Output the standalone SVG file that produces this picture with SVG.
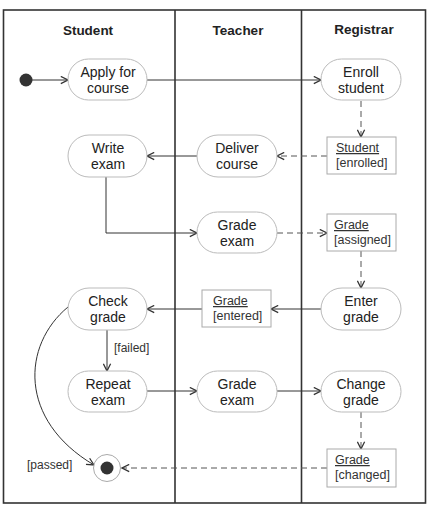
<svg xmlns="http://www.w3.org/2000/svg" width="431" height="512" viewBox="0 0 431 512">
<defs>
<marker id="arr" viewBox="0 0 10 10" refX="9" refY="5" markerWidth="9" markerHeight="9" markerUnits="userSpaceOnUse" orient="auto">
<path d="M1,1 L9,5 L1,9" fill="none" stroke="#333" stroke-width="1.4"/>
</marker>
<style>
.lane{fill:none;stroke:#333;stroke-width:1.6}
.hdr{font-family:"Liberation Sans",Arial,sans-serif;font-size:13.5px;font-weight:bold;fill:#222;text-anchor:middle}
.act{fill:#fff;stroke:#bbb;stroke-width:1}
.obj{fill:#fff;stroke:#aaa;stroke-width:1}
.t{font-family:"Liberation Sans",Arial,sans-serif;font-size:14px;fill:#222;text-anchor:middle}
.o{font-family:"Liberation Sans",Arial,sans-serif;font-size:12.5px;fill:#333}
.u{text-decoration:underline}
.c{fill:none;stroke:#333;stroke-width:1;marker-end:url(#arr)}
.d{stroke-dasharray:6,4;stroke:#555}
.g{font-family:"Liberation Sans",Arial,sans-serif;font-size:12px;fill:#333}
</style>
</defs>
<rect width="431" height="512" fill="#fff"/>
<g id="lanes">
<rect class="lane" x="3.5" y="10" width="422" height="493"/>
<line class="lane" x1="175" y1="10" x2="175" y2="503"/>
<line class="lane" x1="301.5" y1="10" x2="301.5" y2="503"/>
<text class="hdr" x="88" y="35">Student</text>
<text class="hdr" x="238" y="35">Teacher</text>
<text class="hdr" x="364" y="34">Registrar</text>
</g>
<g id="connectors">
<line class="c" x1="32" y1="80" x2="68" y2="80"/>
<line class="c" x1="147" y1="80" x2="321" y2="80"/>
<line class="c d" x1="361" y1="101" x2="361" y2="137"/>
<line class="c d" x1="327" y1="156" x2="277" y2="156"/>
<line class="c" x1="197" y1="156" x2="147" y2="156"/>
<polyline class="c" points="106,177 106,233 197,233"/>
<line class="c d" x1="277" y1="233" x2="327" y2="233"/>
<line class="c d" x1="361" y1="251" x2="361" y2="288"/>
<line class="c" x1="321" y1="309" x2="271" y2="309"/>
<line class="c" x1="202" y1="309" x2="147" y2="309"/>
<line class="c" x1="107" y1="330" x2="107" y2="371"/>
<line class="c" x1="147" y1="391" x2="197" y2="391"/>
<line class="c" x1="277" y1="391" x2="321" y2="391"/>
<line class="c d" x1="361" y1="412" x2="361" y2="449"/>
<line class="c d" x1="327" y1="468" x2="122" y2="468"/>
<path class="c" d="M68,307 C22,345 18,420 94,465"/>
<text class="g" x="114" y="352">[failed]</text>
<text class="g" x="27" y="469">[passed]</text>
</g>
<g id="start"><circle cx="26" cy="80" r="6.5" fill="#333"/></g>
<g id="apply"><rect class="act" x="68" y="59" width="79" height="41" rx="20.5"/><text class="t" x="108" y="77">Apply for</text><text class="t" x="108" y="93">course</text></g>
<g id="enroll"><rect class="act" x="321" y="59" width="80" height="41" rx="20.5"/><text class="t" x="361" y="77">Enroll</text><text class="t" x="361" y="93">student</text></g>
<g id="write"><rect class="act" x="68" y="135" width="79" height="42" rx="21"/><text class="t" x="108" y="153">Write</text><text class="t" x="108" y="169">exam</text></g>
<g id="deliver"><rect class="act" x="197" y="135" width="80" height="42" rx="21"/><text class="t" x="237" y="153">Deliver</text><text class="t" x="237" y="169">course</text></g>
<g id="studentEnrolled"><rect class="obj" x="327" y="137" width="69" height="37"/><text class="o u" x="336" y="152">Student</text><text class="o" x="336" y="167">[enrolled]</text></g>
<g id="gradeExam1"><rect class="act" x="197" y="212" width="80" height="41" rx="20.5"/><text class="t" x="237" y="230">Grade</text><text class="t" x="237" y="246">exam</text></g>
<g id="gradeAssigned"><rect class="obj" x="327" y="214" width="69" height="37"/><text class="o u" x="334" y="229">Grade</text><text class="o" x="334" y="244">[assigned]</text></g>
<g id="check"><rect class="act" x="68" y="288" width="79" height="42" rx="21"/><text class="t" x="108" y="306">Check</text><text class="t" x="108" y="322">grade</text></g>
<g id="gradeEntered"><rect class="obj" x="202" y="290" width="69" height="37"/><text class="o u" x="213" y="305">Grade</text><text class="o" x="213" y="320">[entered]</text></g>
<g id="enter"><rect class="act" x="321" y="288" width="80" height="42" rx="21"/><text class="t" x="361" y="306">Enter</text><text class="t" x="361" y="322">grade</text></g>
<g id="repeat"><rect class="act" x="68" y="371" width="79" height="41" rx="20.5"/><text class="t" x="108" y="389">Repeat</text><text class="t" x="108" y="405">exam</text></g>
<g id="gradeExam2"><rect class="act" x="197" y="371" width="80" height="41" rx="20.5"/><text class="t" x="237" y="389">Grade</text><text class="t" x="237" y="405">exam</text></g>
<g id="change"><rect class="act" x="321" y="371" width="80" height="41" rx="20.5"/><text class="t" x="361" y="389">Change</text><text class="t" x="361" y="405">grade</text></g>
<g id="gradeChanged"><rect class="obj" x="327" y="449" width="69" height="38"/><text class="o u" x="335" y="464">Grade</text><text class="o" x="335" y="479">[changed]</text></g>
<g id="final"><circle cx="107" cy="468" r="13.5" fill="#fff" stroke="#aaa" stroke-width="1"/><circle cx="107" cy="468" r="6.5" fill="#333"/></g>
</svg>
